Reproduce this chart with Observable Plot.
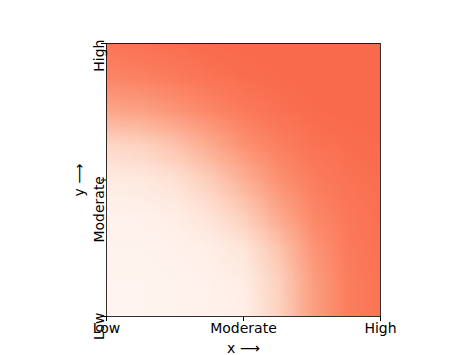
<!DOCTYPE html>
<html>
<head>
<meta charset="utf-8">
<script src="https://cdn.jsdelivr.net/npm/d3@7"></script>
<script src="https://cdn.jsdelivr.net/npm/@observablehq/plot@0.6"></script>
<style>
  html, body { margin: 0; padding: 0; background: #ffffff; }
  #chart svg { display: block; }
</style>
</head>
<body>
<div id="chart"></div>
<script>
// Tick positions and labels (shared by both axes)
const tickValues = [0, 0.5, 1];
const tickLabels = ["Low", "Moderate", "High"];
const xLabel = "x ⟶";
const yLabel = "y ⟶";

// Sample grid (x columns, y rows from bottom to top)
const gridX = [0, 0.125, 0.25, 0.375, 0.5, 0.625, 0.75, 0.875, 1];
const gridY = [0, 0.125, 0.25, 0.375, 0.5, 0.625, 0.75, 0.875, 1];

// Estimated intensity (0 = lightest, 1 = strongest red), rows listed from y = 0 (bottom) to y = 1 (top)
const row0 = [0.00, 0.01, 0.02, 0.03, 0.07, 0.33, 0.67, 0.87, 0.94];
const row1 = [0.01, 0.01, 0.02, 0.04, 0.09, 0.35, 0.68, 0.87, 0.94];
const row2 = [0.02, 0.02, 0.04, 0.08, 0.18, 0.44, 0.73, 0.89, 0.95];
const row3 = [0.04, 0.05, 0.09, 0.21, 0.38, 0.62, 0.82, 0.91, 0.96];
const row4 = [0.12, 0.14, 0.22, 0.38, 0.57, 0.76, 0.88, 0.94, 0.97];
const row5 = [0.30, 0.34, 0.45, 0.60, 0.76, 0.87, 0.94, 0.97, 0.99];
const row6 = [0.62, 0.66, 0.73, 0.82, 0.90, 0.95, 0.98, 1.00, 1.00];
const row7 = [0.83, 0.86, 0.90, 0.94, 0.97, 0.99, 1.00, 1.00, 1.00];
const row8 = [0.93, 0.95, 0.97, 0.99, 1.00, 1.00, 1.00, 1.00, 1.00];
const rows = [row0, row1, row2, row3, row4, row5, row6, row7, row8];

const values = rows.flat();
const stepX = gridX[1] - gridX[0];
const stepY = gridY[1] - gridY[0];

const font = "DejaVu Sans, sans-serif";

const chart = Plot.plot({
  width: 474,
  height: 355,
  marginLeft: 106,
  marginRight: 94,
  marginTop: 43,
  marginBottom: 39,
  style: { fontFamily: font, fontSize: "14px", background: "#ffffff", color: "black" },
  x: { domain: [0, 1], axis: null },
  y: { domain: [0, 1], axis: null },
  color: { type: "linear", domain: [0, 1], clamp: true, interpolate: t => d3.interpolateReds(t * 0.5) },
  marks: [
    Plot.raster(values, {
      width: gridX.length,
      height: gridY.length,
      x1: gridX[0] - stepX / 2,
      x2: gridX[gridX.length - 1] + stepX / 2,
      y1: gridY[0] - stepY / 2,
      y2: gridY[gridY.length - 1] + stepY / 2,
      imageRendering: "auto",
      clip: true
    }),
    Plot.frame({ stroke: "black", strokeWidth: 0.8 }),
    Plot.axisX({
      ticks: tickValues,
      tickFormat: d => tickLabels[tickValues.indexOf(d)],
      tickSize: 5,
      tickPadding: 2,
      fontSize: 14,
      stroke: "black",
      fill: "black",
      label: null
    }),
    Plot.axisY({
      ticks: tickValues,
      tickFormat: () => "",
      tickSize: 5,
      stroke: "black",
      label: null
    }),
    Plot.text(tickValues, {
      y: d => d,
      frameAnchor: "left",
      text: d => tickLabels[tickValues.indexOf(d)],
      rotate: -90,
      textAnchor: "end",
      lineAnchor: "bottom",
      dx: -3,
      dy: -4,
      fontSize: 14,
      fill: "black"
    }),
    Plot.text([xLabel], {
      frameAnchor: "bottom",
      text: d => d,
      lineAnchor: "bottom",
      dy: 36,
      fontSize: 14,
      fill: "black"
    }),
    Plot.text([yLabel], {
      frameAnchor: "left",
      text: d => d,
      rotate: -90,
      textAnchor: "middle",
      lineAnchor: "bottom",
      dx: -23,
      fontSize: 14,
      fill: "black"
    })
  ]
});

document.getElementById("chart").appendChild(chart);
</script>
</body>
</html>
